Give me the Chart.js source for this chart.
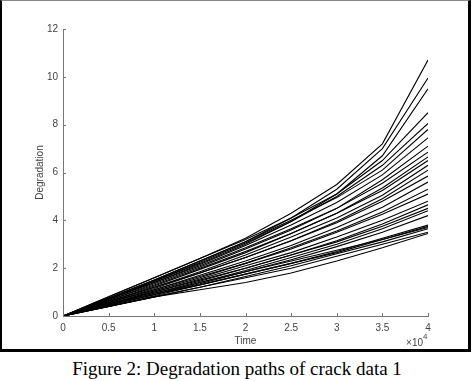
<!DOCTYPE html>
<html>
<head>
<meta charset="utf-8">
<script src="https://cdn.jsdelivr.net/npm/chart.js@4/dist/chart.umd.min.js"></script>
<style>
  html, body { margin: 0; padding: 0; background: #fff; width: 474px; height: 381px; overflow: hidden; }
  #frame { position: absolute; left: 0; top: 0; width: 466px; height: 348px;
           border-left: 2px solid #000; border-right: 3px solid #000;
           border-top: 1px solid #888; border-bottom: 3px solid #000; }
  #frame canvas { display: block; }
  #caption { position: absolute; left: 0; width: 474px; top: 358px; text-align: center;
             font-family: "Liberation Serif", "Times New Roman", serif; font-size: 19px; color: #000; line-height: 22px; }
</style>
</head>
<body>
<div id="frame"><canvas id="c" width="466" height="348"></canvas></div>
<div id="caption">Figure 2: Degradation paths of crack data 1</div>
<script>
// Time (x 10^4)
const times = [0, 0.5, 1, 1.5, 2, 2.5, 3, 3.5, 4];
const xTicks = [0, 0.5, 1, 1.5, 2, 2.5, 3, 3.5, 4];
const yTicks = [0, 2, 4, 6, 8, 10, 12];

// Degradation paths (one array per unit)
const path01 = [0, 0.80, 1.60, 2.40, 3.25, 4.30, 5.50, 7.20, 10.70];
const path02 = [0, 0.75, 1.50, 2.30, 3.10, 4.10, 5.30, 7.00, 9.95];
const path03 = [0, 0.70, 1.45, 2.20, 3.00, 3.95, 5.10, 6.70, 9.50];
const path04 = [0, 0.80, 1.60, 2.40, 3.20, 4.10, 5.10, 6.50, 8.50];
const path05 = [0, 0.70, 1.45, 2.25, 3.05, 3.95, 5.00, 6.30, 8.05];
const path06 = [0, 0.75, 1.50, 2.30, 3.10, 4.00, 4.95, 6.10, 7.80];
const path07 = [0, 0.70, 1.40, 2.15, 2.95, 3.80, 4.75, 5.90, 7.45];
const path08 = [0, 0.65, 1.35, 2.05, 2.80, 3.60, 4.50, 5.70, 7.10];
const path09 = [0, 0.70, 1.40, 2.10, 2.85, 3.65, 4.50, 5.55, 6.85];
const path10 = [0, 0.60, 1.25, 1.95, 2.65, 3.45, 4.30, 5.35, 6.65];
const path11 = [0, 0.65, 1.30, 2.00, 2.70, 3.45, 4.30, 5.25, 6.50];
const path12 = [0, 0.60, 1.20, 1.85, 2.55, 3.30, 4.10, 5.05, 6.30];
const path13 = [0, 0.55, 1.15, 1.80, 2.45, 3.15, 3.95, 4.90, 6.10];
const path14 = [0, 0.60, 1.20, 1.80, 2.45, 3.15, 3.90, 4.80, 5.85];
const path15 = [0, 0.55, 1.10, 1.70, 2.30, 2.95, 3.70, 4.55, 5.60];
const path16 = [0, 0.50, 1.05, 1.60, 2.20, 2.85, 3.55, 4.35, 5.30];
const path17 = [0, 0.55, 1.10, 1.65, 2.20, 2.80, 3.50, 4.25, 5.10];
const path18 = [0, 0.50, 1.00, 1.55, 2.10, 2.65, 3.30, 4.00, 4.80];
const path19 = [0, 0.45, 0.95, 1.45, 2.00, 2.55, 3.15, 3.85, 4.65];
const path20 = [0, 0.50, 1.00, 1.50, 2.00, 2.55, 3.10, 3.75, 4.50];
const path21 = [0, 0.45, 0.90, 1.40, 1.90, 2.45, 3.00, 3.65, 4.40];
const path22 = [0, 0.45, 0.90, 1.35, 1.85, 2.35, 2.90, 3.50, 4.20];
const path23 = [0, 0.40, 0.85, 1.30, 1.75, 2.20, 2.70, 3.25, 3.80];
const path24 = [0, 0.45, 0.90, 1.30, 1.75, 2.20, 2.65, 3.20, 3.75];
const path25 = [0, 0.40, 0.80, 1.20, 1.65, 2.10, 2.60, 3.10, 3.65];
const path26 = [0, 0.40, 0.80, 1.20, 1.60, 2.00, 2.50, 3.00, 3.50];
const path27 = [0, 0.40, 0.80, 1.10, 1.40, 1.80, 2.30, 2.85, 3.45];
const path28 = [0, 0.50, 0.95, 1.40, 1.85, 2.30, 2.75, 3.20, 3.70];

const paths = [path01, path02, path03, path04, path05, path06, path07, path08, path09, path10,
               path11, path12, path13, path14, path15, path16, path17, path18, path19, path20,
               path21, path22, path23, path24, path25, path26, path27, path28];

const datasets = paths.map((p, i) => ({
  label: 'Unit ' + (i + 1),
  data: times.map((t, j) => ({ x: t, y: p[j] })),
  borderColor: '#000',
  borderWidth: 1.1,
  pointRadius: 0,
  tension: 0,
  fill: false
}));

const axisColor = '#777';
const labelColor = '#444';
const smallFont = { family: '"Liberation Sans", Arial, sans-serif', size: 10 };

const innerTicks = {
  id: 'innerTicks',
  afterDraw(chart) {
    const { ctx, chartArea, scales } = chart;
    ctx.save();
    ctx.strokeStyle = axisColor;
    ctx.lineWidth = 1;
    ctx.beginPath();
    xTicks.forEach(v => {
      const x = Math.round(scales.x.getPixelForValue(v)) + 0.5;
      ctx.moveTo(x, chartArea.bottom);
      ctx.lineTo(x, chartArea.bottom - 3);
    });
    yTicks.forEach(v => {
      const y = Math.round(scales.y.getPixelForValue(v)) + 0.5;
      ctx.moveTo(chartArea.left, y);
      ctx.lineTo(chartArea.left + 3, y);
    });
    ctx.stroke();
    // exponent label
    ctx.fillStyle = labelColor;
    ctx.font = '10px "Liberation Sans", Arial, sans-serif';
    ctx.textAlign = 'right';
    ctx.textBaseline = 'middle';
    ctx.fillText('\u00d710', chartArea.right - 5, 342);
    ctx.font = '8px "Liberation Sans", Arial, sans-serif';
    ctx.textAlign = 'left';
    ctx.fillText('4', chartArea.right - 5, 336);
    ctx.restore();
  }
};

new Chart(document.getElementById('c'), {
  type: 'line',
  data: { datasets },
  plugins: [innerTicks],
  options: {
    responsive: false,
    animation: false,
    layout: { padding: { left: 0, top: 28, right: 40, bottom: 0 } },
    plugins: { legend: { display: false }, tooltip: { enabled: false }, title: { display: false } },
    scales: {
      x: {
        type: 'linear', min: 0, max: 4,
        afterFit(s) { s.height = 33; },
        afterBuildTicks(s) { s.ticks = xTicks.map(v => ({ value: v })); },
        grid: { display: true, drawOnChartArea: false, drawTicks: false },
        border: { display: true, color: axisColor, width: 1 },
        ticks: { color: labelColor, font: smallFont, padding: 6, maxRotation: 0,
                 callback: (v) => String(v) },
        title: { display: true, text: 'Time', color: labelColor, font: smallFont, padding: { top: 0, bottom: 2 } }
      },
      y: {
        type: 'linear', min: 0, max: 12,
        afterFit(s) { s.width = 61; },
        afterBuildTicks(s) { s.ticks = yTicks.map(v => ({ value: v })); },
        grid: { display: true, drawOnChartArea: false, drawTicks: false },
        border: { display: true, color: axisColor, width: 1 },
        ticks: { color: labelColor, font: smallFont, padding: 5, callback: (v) => String(v) },
        title: { display: true, text: 'Degradation', color: labelColor, font: smallFont, padding: { top: 32.6, bottom: 0 } }
      }
    }
  }
});
</script>
</body>
</html>
